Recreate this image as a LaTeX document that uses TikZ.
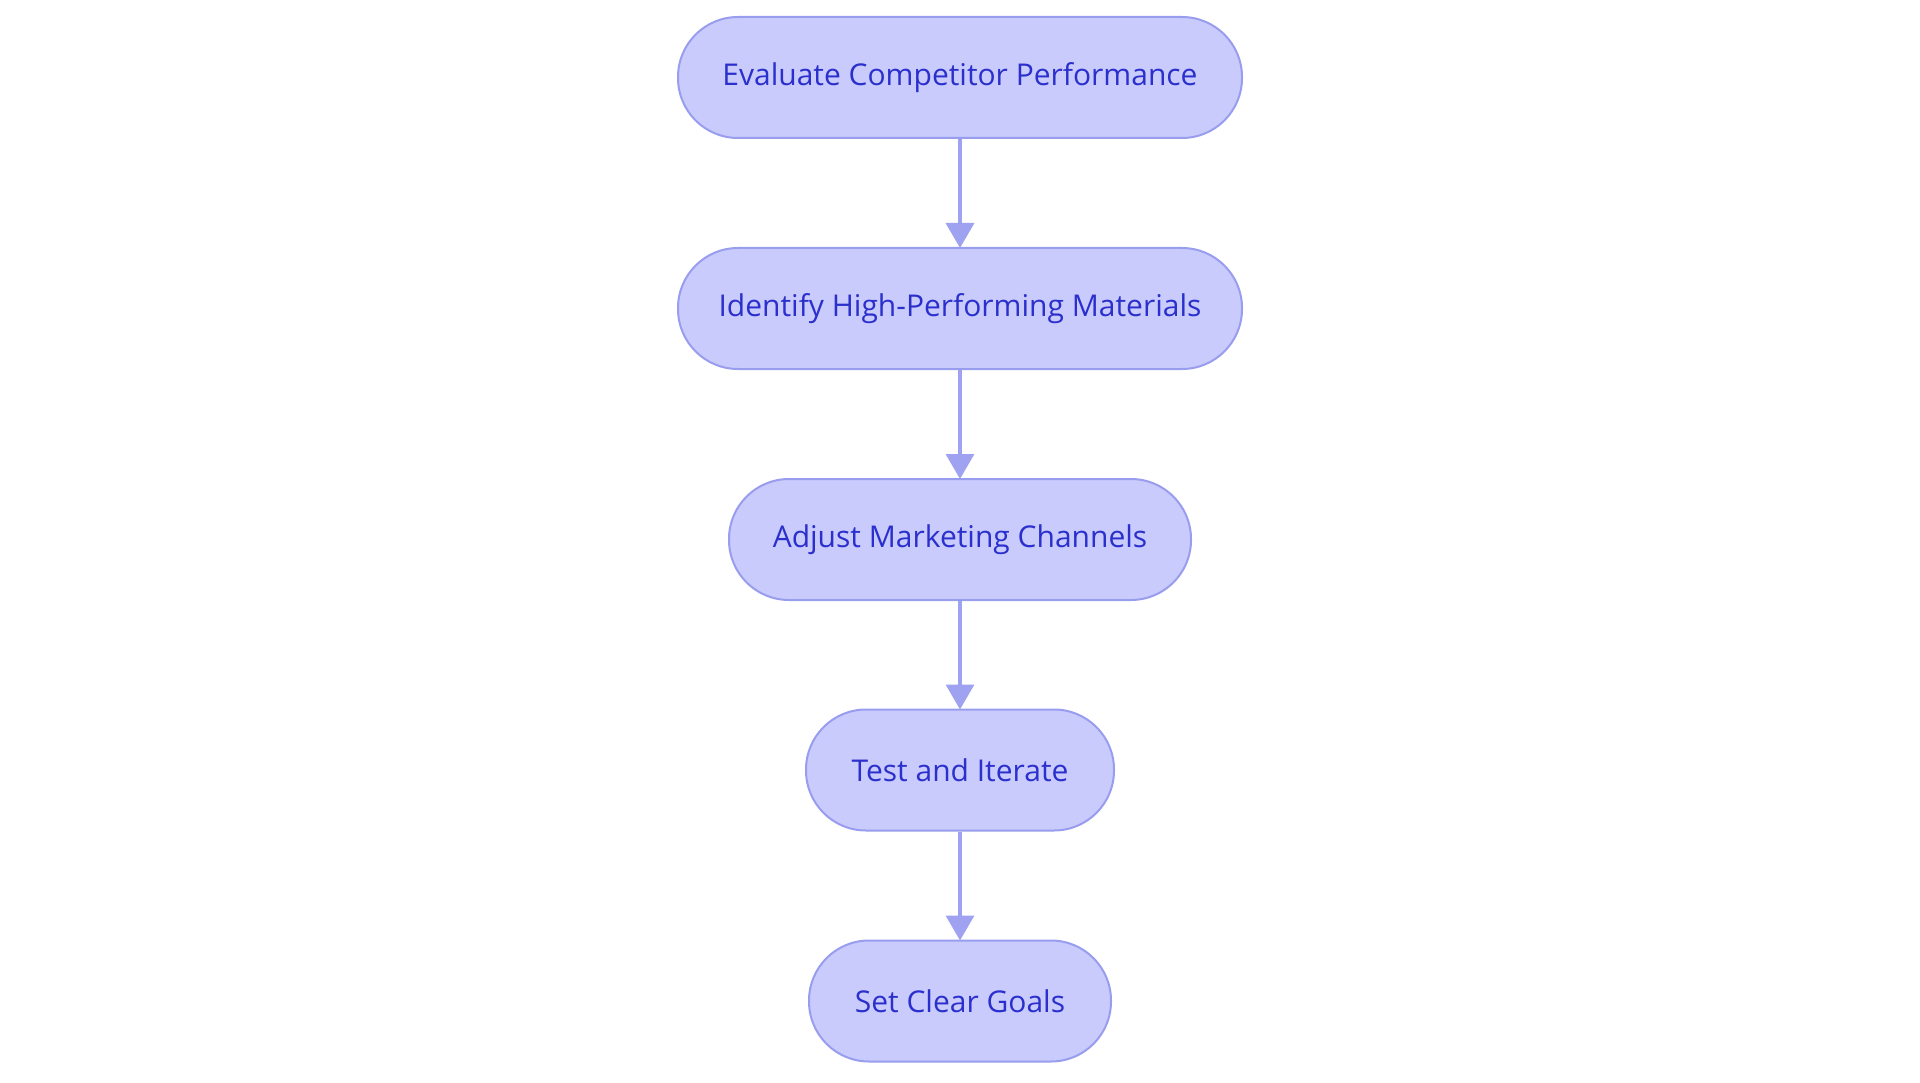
\documentclass[tikz,border=0pt]{standalone}
\usepackage{fontspec}
\setmainfont{Open Sans}
\usetikzlibrary{arrows.meta}
\definecolor{boxfill}{HTML}{C9CBFD}
\definecolor{boxline}{HTML}{989DEE}
\definecolor{boxtext}{HTML}{2B30CC}
\definecolor{arrowc}{HTML}{9EA2F0}
\tikzset{
  stepbox/.style={draw=boxline, line width=2pt, fill=boxfill, rounded corners=60pt,
    minimum height=121pt, inner sep=0pt, text=boxtext,
    font=\fontsize{30}{36}\selectfont},
  flow/.style={draw=arrowc, line width=3.5pt, -{Triangle[length=25pt,width=28pt]}, shorten >=-1pt}
}
\begin{document}
\begin{tikzpicture}[x=1pt,y=-1pt]
\useasboundingbox (0,0) rectangle (1920,1083);
\node[stepbox, minimum width=564pt] (a) at (960,77.5) {Evaluate Competitor Performance};
\node[stepbox, minimum width=564pt] (b) at (960,308.5) {Identify High-Performing Materials};
\node[stepbox, minimum width=462pt] (c) at (960,539.5) {Adjust Marketing Channels};
\node[stepbox, minimum width=308pt] (d) at (960,770) {Test and Iterate};
\node[stepbox, minimum width=302pt] (e) at (960,1001) {Set Clear Goals};
\draw[flow] (a) -- (b);
\draw[flow] (b) -- (c);
\draw[flow] (c) -- (d);
\draw[flow] (d) -- (e);
\end{tikzpicture}
\end{document}
